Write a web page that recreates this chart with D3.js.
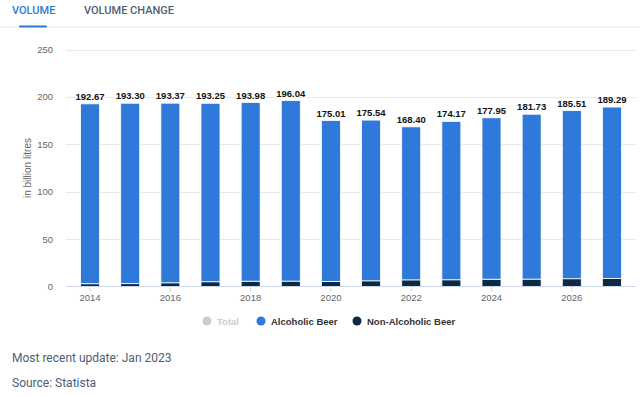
<!DOCTYPE html>
<html lang="en">
  <head>
    <meta charset="UTF-8" />
    <title>Beer volume</title>
    <script src="https://d3js.org/d3.v7.min.js"></script>
    <style>
      body {
        margin: 0;
        padding: 0;
        background: #fff;
        font-family: "Liberation Sans", Arial, sans-serif;
      }

      .tab {
        font-family: Roboto, sans-serif;
        font-size: 11px;
        font-weight: 500;
      }

      .grid line {
        stroke: #e6e9ef;
        stroke-width: 1;
      }

      .tick-label {
        fill: #666;
        font-size: 9.5px;
      }

      .value-label {
        fill: #111;
        font-size: 9.5px;
        font-weight: bold;
        text-anchor: middle;
        paint-order: stroke;
        stroke: #fff;
        stroke-width: 2px;
      }

      .legend-text {
        font-size: 9.5px;
        font-weight: bold;
      }

      .footer {
        font-family: Roboto, sans-serif;
        font-size: 12px;
        fill: #4c5e78;
      }
    </style>
  </head>
  <body>
    <div id="chart"></div>

    <script>
      const years = [
        2014, 2015, 2016, 2017, 2018, 2019, 2020,
        2021, 2022, 2023, 2024, 2025, 2026, 2027,
      ];
      const totals = [
        192.67, 193.3, 193.37, 193.25, 193.98, 196.04, 175.01,
        175.54, 168.4, 174.17, 177.95, 181.73, 185.51, 189.29,
      ];
      const alcoholic = [
        189.77, 190.3, 189.47, 188.25, 188.38, 190.34, 169.71,
        169.54, 161.4, 167.07, 170.25, 173.93, 177.31, 180.89,
      ];
      const nonAlcoholic = [
        2.9, 3.0, 3.9, 5.0, 5.6, 5.7, 5.3,
        6.0, 7.0, 7.1, 7.7, 7.8, 8.2, 8.4,
      ];
      const yTicks = [0, 50, 100, 150, 200, 250];
      const xTickYears = [2014, 2016, 2018, 2020, 2022, 2024, 2026];

      const width = 640;
      const height = 397;

      const svg = d3
        .select("#chart")
        .append("svg")
        .attr("width", width)
        .attr("height", height);

      // tabs on top
      svg
        .append("text")
        .attr("class", "tab")
        .attr("x", 12)
        .attr("y", 14)
        .attr("fill", "#2c7bd3")
        .text("VOLUME");
      svg
        .append("text")
        .attr("class", "tab")
        .attr("x", 84)
        .attr("y", 14)
        .attr("fill", "#4f5f76")
        .text("VOLUME CHANGE");
      svg
        .append("line")
        .attr("x1", 0)
        .attr("x2", width)
        .attr("y1", 27)
        .attr("y2", 27)
        .attr("stroke", "#f0f1f4")
        .attr("stroke-width", 1.5);
      svg
        .append("line")
        .attr("x1", 20)
        .attr("x2", 46)
        .attr("y1", 26.5)
        .attr("y2", 26.5)
        .attr("stroke", "#2c7bd3")
        .attr("stroke-width", 2)
        .attr("stroke-linecap", "round");

      const plotLeft = 66;
      const plotRight = 636;

      const x = d3
        .scaleBand()
        .domain(years)
        .range([70, 632])
        .paddingInner(0.527)
        .paddingOuter(0.2635);

      const y = d3.scaleLinear().domain([0, 250]).range([286.5, 49.5]);

      // grid lines + y labels
      const grid = svg.append("g").attr("class", "grid");
      grid
        .selectAll("line")
        .data(yTicks.filter((d) => d > 0))
        .enter()
        .append("line")
        .attr("x1", plotLeft)
        .attr("x2", plotRight)
        .attr("y1", (d) => Math.round(y(d)) + 0.5)
        .attr("y2", (d) => Math.round(y(d)) + 0.5);

      svg
        .append("g")
        .attr("transform", `translate(${plotLeft - 13}, 0)`)
        .call(d3.axisLeft(y).tickValues(yTicks).tickSize(0).tickPadding(0))
        .call((g) => g.select(".domain").remove())
        .call((g) =>
          g
            .selectAll("text")
            .attr("class", "tick-label")
            .style("font-family", "Liberation Sans, Arial, sans-serif")
        );

      svg
        .append("text")
        .attr("class", "tick-label")
        .attr("transform", `translate(31, ${y(125)}) rotate(-90)`)
        .attr("text-anchor", "middle")
        .style("font-size", "10px")
        .text("in billion litres");

      // stacked bars
      const bars = svg.append("g");
      bars
        .selectAll("rect.nonalc")
        .data(years)
        .enter()
        .append("rect")
        .attr("class", "nonalc")
        .attr("x", (d) => x(d))
        .attr("width", x.bandwidth())
        .attr("y", (d, i) => y(nonAlcoholic[i]))
        .attr("height", (d, i) => y(0) - y(nonAlcoholic[i]))
        .attr("fill", "#0e2942")
        .attr("stroke", "#fff")
        .attr("stroke-width", 0.8);

      bars
        .selectAll("rect.alc")
        .data(years)
        .enter()
        .append("rect")
        .attr("class", "alc")
        .attr("x", (d) => x(d))
        .attr("width", x.bandwidth())
        .attr("y", (d, i) => y(nonAlcoholic[i] + alcoholic[i]))
        .attr("height", (d, i) => y(nonAlcoholic[i]) - y(nonAlcoholic[i] + alcoholic[i]))
        .attr("fill", "#2e79d9")
        .attr("stroke", "#fff")
        .attr("stroke-width", 0.8);

      // x axis
      svg
        .append("line")
        .attr("x1", plotLeft)
        .attr("x2", plotRight)
        .attr("y1", 286.5)
        .attr("y2", 286.5)
        .attr("stroke", "#ccd6eb");

      svg
        .append("g")
        .attr("transform", "translate(0, 286.5)")
        .call(
          d3
            .axisBottom(x)
            .tickValues(xTickYears)
            .tickSize(5)
            .tickPadding(3)
        )
        .call((g) => g.select(".domain").remove())
        .call((g) => g.selectAll("line").attr("stroke", "#ccd6eb"))
        .call((g) =>
          g
            .selectAll("text")
            .attr("class", "tick-label")
            .style("font-family", "Liberation Sans, Arial, sans-serif")
        );

      // total labels
      svg
        .selectAll("text.value-label")
        .data(years)
        .enter()
        .append("text")
        .attr("class", "value-label")
        .attr("x", (d) => x(d) + x.bandwidth() / 2)
        .attr("y", (d, i) => y(totals[i]) - 4)
        .text((d, i) => totals[i].toFixed(2));

      // legend
      const legendItems = [
        { name: "Total", color: "#cccccc", text: "#cccccc", x: 207 },
        { name: "Alcoholic Beer", color: "#2e79d9", text: "#333", x: 261 },
        { name: "Non-Alcoholic Beer", color: "#0e2942", text: "#333", x: 357 },
      ];
      const legend = svg
        .selectAll("g.legend")
        .data(legendItems)
        .enter()
        .append("g")
        .attr("transform", (d) => `translate(${d.x}, 321)`);
      legend
        .append("circle")
        .attr("r", 4.5)
        .attr("fill", (d) => d.color);
      legend
        .append("text")
        .attr("class", "legend-text")
        .attr("x", 10)
        .attr("y", 3.5)
        .attr("fill", (d) => d.text)
        .text((d) => d.name);

      // footer
      svg
        .append("text")
        .attr("class", "footer")
        .attr("x", 12)
        .attr("y", 362)
        .text("Most recent update: Jan 2023");
      svg
        .append("text")
        .attr("class", "footer")
        .attr("x", 12)
        .attr("y", 387)
        .text("Source: Statista");
    </script>
  </body>
</html>
